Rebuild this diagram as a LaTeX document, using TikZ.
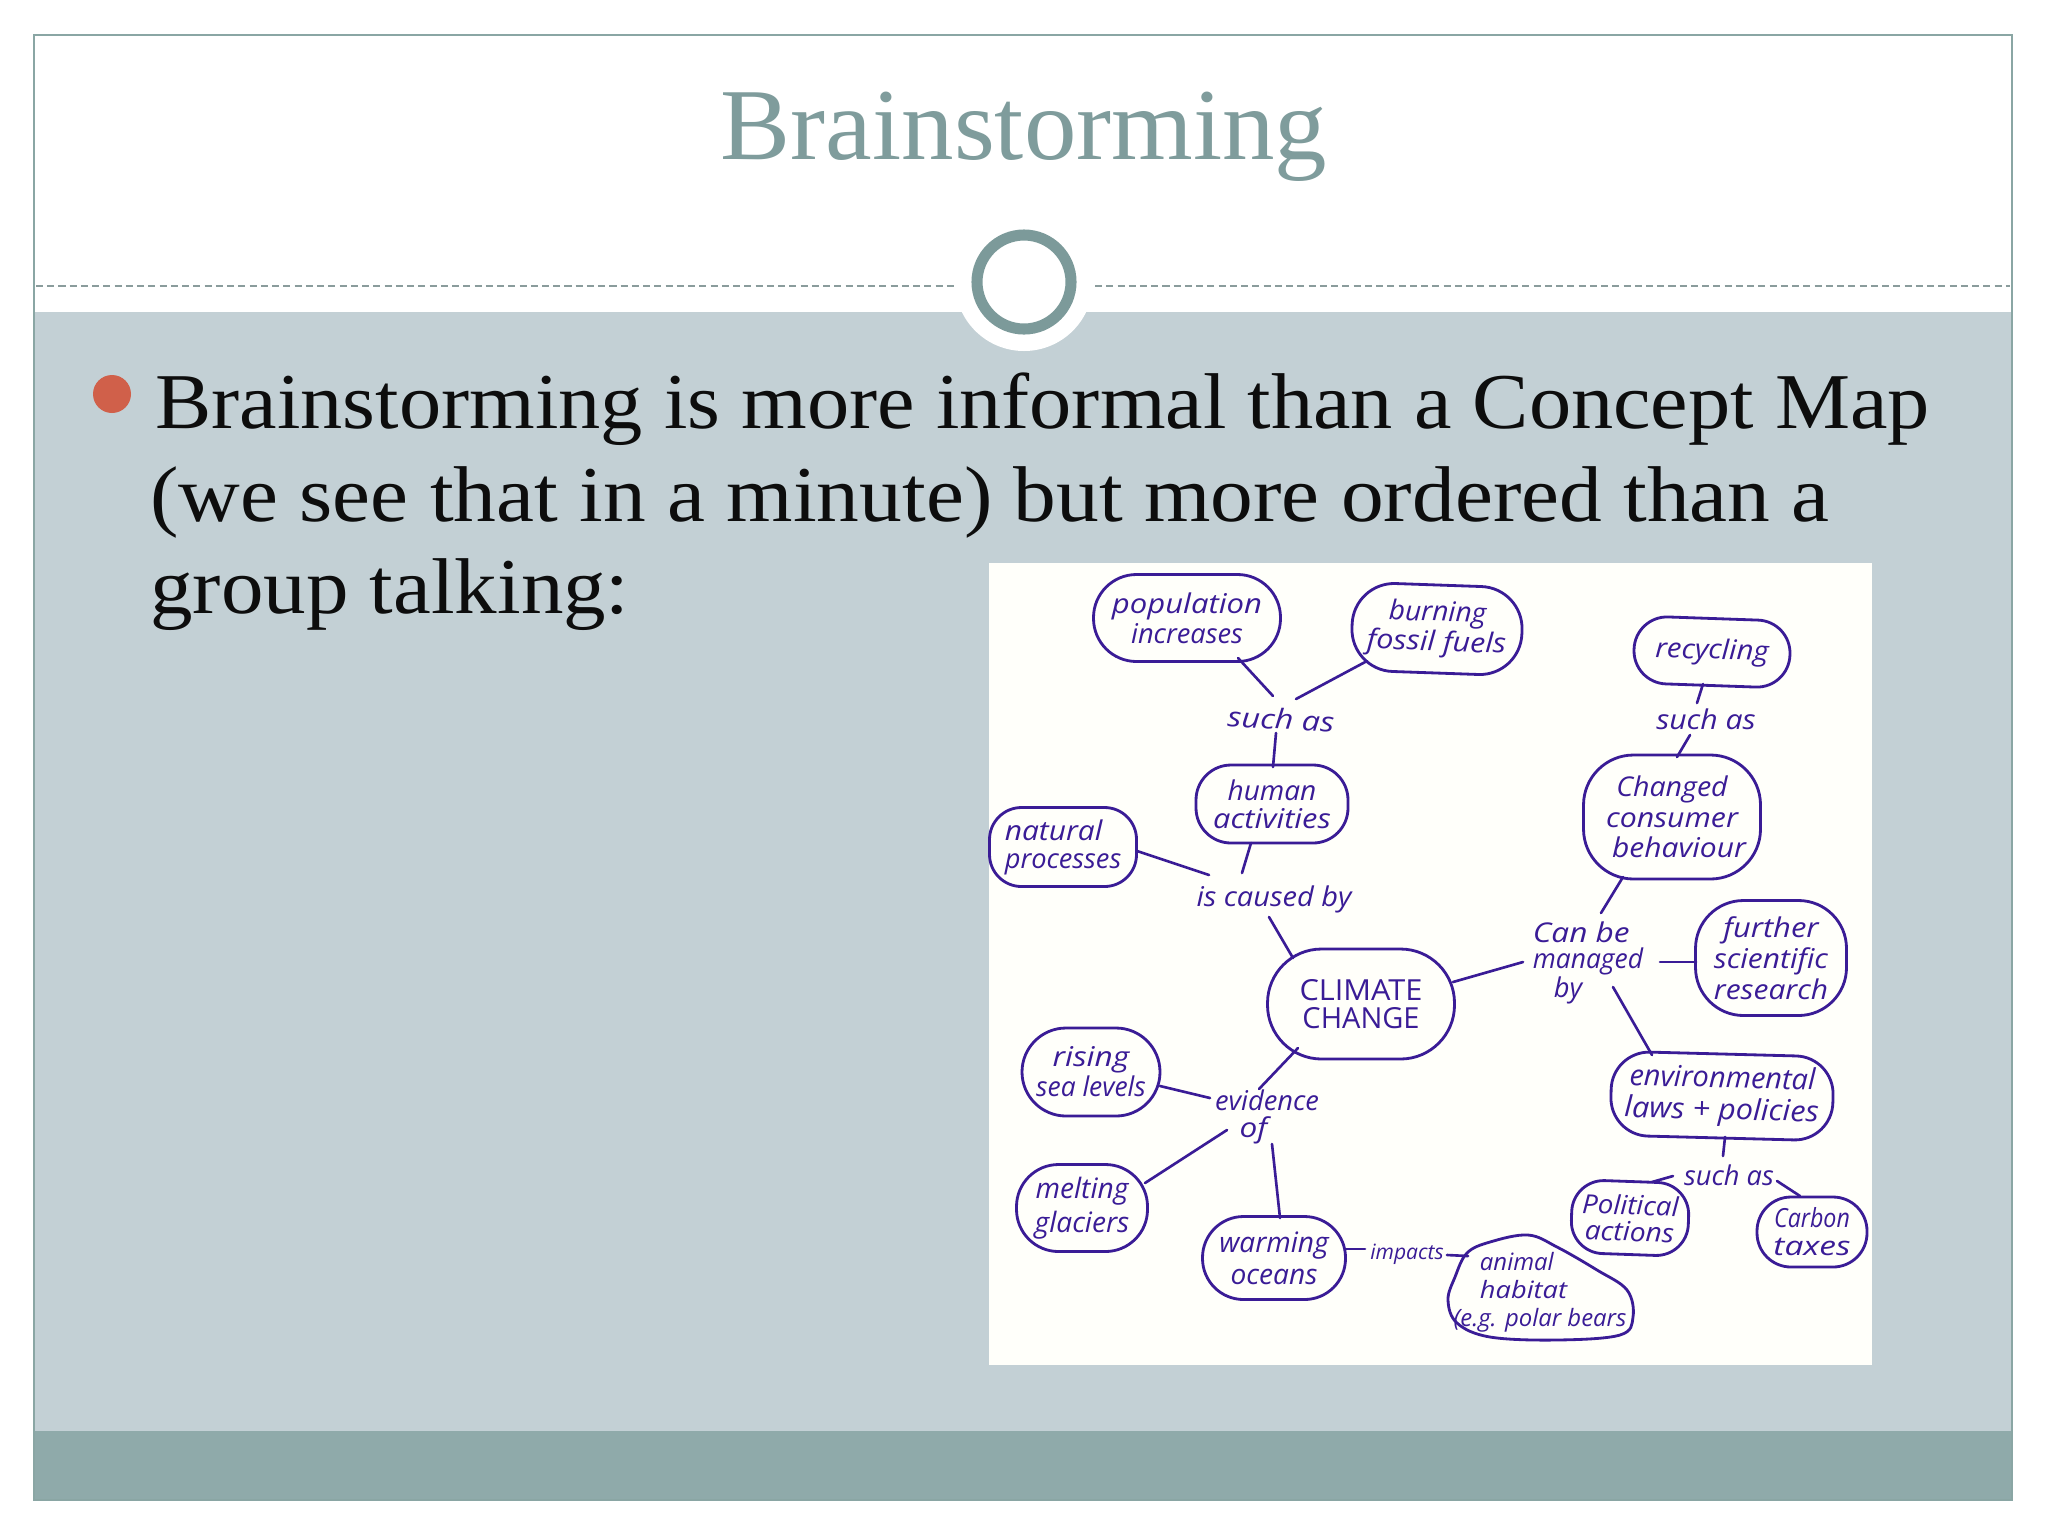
\documentclass[tikz,border=0pt]{standalone}
\usepackage{graphicx}
\usepackage{fontspec}
\newfontfamily\handfont{Open Sans}
\newfontfamily\slidefont[FakeStretch=1.075]{Liberation Serif}
\newfontfamily\titlefont[FakeStretch=1.03]{Liberation Serif}
\newcommand{\lsx}[2]{\scalebox{#1}[1]{#2}}
\definecolor{framecol}{HTML}{8AA6A4}
\definecolor{titlecol}{HTML}{7F9C9C}
\definecolor{bodycol}{HTML}{C3D0D5}
\definecolor{footcol}{HTML}{8FAAAA}
\definecolor{ringcol}{HTML}{7C9A9A}
\definecolor{dashcol}{HTML}{8A9C9C}
\definecolor{bulletcol}{HTML}{D0604A}
\definecolor{paper}{HTML}{FFFFFA}
\definecolor{ink}{HTML}{3A1C96}
\tikzset{
  bodyline/.style={anchor=base west,inner sep=0pt,text=black!95,font=\slidefont\fontsize{45}{50}\selectfont},
  blob/.style n args={3}{draw=ink,line width=1.6pt,text=ink,align=center,inner sep=0pt,
    minimum width=#1*0.02cm,minimum height=#2*0.02cm,rounded corners=#3*0.02cm},
  hw/.style 2 args={font=\handfont\itshape\fontsize{#1}{#2}\selectfont},
  tag/.style={text=ink,align=center,inner sep=0pt},
  link/.style={draw=ink,line width=1.5pt,line cap=round}
}
\begin{document}
\begin{tikzpicture}[x=0.02cm,y=-0.02cm]
\useasboundingbox (0,0) rectangle (2048,1536);
\fill[white] (0,0) rectangle (2048,1536);
% slide
\fill[bodycol] (34,312) rectangle (2012,1431);
\fill[footcol] (34,1431) rectangle (2012,1500);
\fill[white] (1024,282) circle[radius=69];
\fill[white] (955,220) rectangle (1093,312);
\draw[framecol,line width=1.5pt] (34,35) rectangle (2012,1500);
\coordinate (dashL0) at (36,286);
\coordinate (dashL1) at (956,286);
\coordinate (dashR0) at (1095,286);
\coordinate (dashR1) at (2010,286);
\draw[dashcol,line width=0.8pt,dash pattern=on 4pt off 2.4pt] (dashL0) -- (dashL1);
\draw[dashcol,line width=0.8pt,dash pattern=on 4pt off 2.4pt] (dashR0) -- (dashR1);
\draw[ringcol,line width=6.3pt] (1024,282) circle[radius=47];
\node[anchor=base,inner sep=0pt,text=titlecol,font=\titlefont\fontsize{58}{60}\selectfont] (title) at (1024,159) {Brainstorming};
\fill[bulletcol] (112,394) circle[radius=19];
\node[bodyline] (l1) at (155,428) {\lsx{0.993}{Brainstorming is more informal than a Concept Map}};
\node[bodyline] (l2) at (150,521) {\lsx{1.005}{(we see that in a minute) but more ordered than a}};
\node[bodyline] (l3) at (150,613) {group talking:};
% picture panel
\fill[paper] (989,563) rectangle (1872,1365);
% concept nodes
\node[blob={187}{87}{43},hw={15.5}{17}] (pop) at (1187,618) {\lsx{1.14}{population}\\increases};
\node[blob={170}{88}{42},hw={15.5}{17},rotate=-2] (burn) at (1437,629) {\lsx{1.03}{burning}\\\lsx{1.12}{fossil fuels}};
\node[blob={152}{78}{35},hw={15.5}{16}] (human) at (1272,804) {\lsx{1.03}{human}\\\lsx{1.13}{activities}};
\node[blob={147}{79}{32},hw={15.5}{16},align=left] (natural) at (1063,847) {\lsx{1.1}{natural}\\processes};
\node[blob={156}{67}{33},hw={15.5}{17},rotate=-2] (recyc) at (1712,652) {\lsx{1.08}{recycling}};
\node[blob={177}{124}{50},hw={15.5}{17.5}] (changed) at (1672,817) {\lsx{1.05}{Changed}\hspace{10pt}\\\lsx{1.11}{consumer}\hspace{6pt}\\\hspace{8pt}\lsx{1.1}{behaviour}};
\node[blob={151}{115}{48},hw={15.5}{17.5}] (further) at (1771,958) {\lsx{1.135}{further}\\\lsx{1.1}{scientific}\\\lsx{1.1}{research}};
\node[blob={187}{110}{54},font=\handfont\fontsize{16.5}{16}\selectfont] (climate) at (1361,1004) {\lsx{1.06}{CLIMATE}\\CHANGE};
\node[blob={138}{88}{44},hw={15.5}{17}] (rising) at (1091,1072) {\lsx{1.16}{rising}\\\lsx{0.97}{sea levels}};
\node[blob={131}{87}{42},hw={16}{19}] (melting) at (1082,1208) {melting\\glaciers};
\node[blob={143}{83}{41},hw={16}{18}] (warming) at (1274,1258) {warming\\oceans};
\node[blob={222}{84}{38},hw={16.5}{18},rotate=-1.5] (env) at (1722,1096) {environmental\\\lsx{1.06}{laws + policies}};
\node[blob={117}{73}{32},hw={15}{15},rotate=-2] (pol) at (1630,1218) {\lsx{1.05}{Political}\\\lsx{1.07}{actions}};
\node[blob={110}{70}{34},hw={15}{16}] (carbon) at (1812,1232) {\lsx{0.88}{Carbon}\\\lsx{1.27}{taxes}};
% odd-shaped blob
\node[tag,hw={13.6}{16},align=left] (animal) at (1540,1292) {\hspace{15pt}animal\\\hspace{15pt}\lsx{1.14}{habitat}\\(e.g. polar bears};
\draw[draw=ink,line width=1.6pt] plot[smooth cycle,tension=0.6] coordinates {(1467,1253) (1490,1242) (1528,1235) (1557,1247) (1597,1270) (1627,1290) (1633,1317) (1620,1335) (1557,1340) (1490,1337) (1457,1323) (1448,1300) (1455,1277)};
% linking phrases
\node[tag,hw={15.5}{17},rotate=-3] (such1) at (1281,719) {\lsx{1.19}{such as}};
\node[tag,hw={15.5}{17}] (caused) at (1274,899) {\lsx{1.065}{is caused by}};
\node[tag,hw={15.5}{17}] (such2) at (1706,719) {\lsx{1.11}{such as}};
\node[tag,hw={15.5}{15},align=left] (can) at (1588,963) {\lsx{1.16}{Can be}\\\lsx{0.97}{managed}\\\hspace{12pt}by};
\node[tag,hw={15.5}{15},align=left] (evid) at (1267,1117) {evidence\\\hspace{14pt}\lsx{1.16}{of}};
\node[tag,hw={12}{15}] (impacts) at (1407,1254) {impacts};
\node[tag,hw={15.5}{15}] (such3) at (1729,1175) {such as};
% connectors
\draw[link] ([shift={(51,40)}]pop.center) -- ([shift={(-8,-23)}]such1.center);
\draw[link] ([shift={(-70,32)}]burn.center) -- ([shift={(15,-20)}]such1.center);
\draw[link] ([shift={(-5,14)}]such1.center) -- ([shift={(1,-37)}]human.center);
\draw[link] ([shift={(-21,39)}]human.center) -- ([shift={(-32,-26)}]caused.center);
\draw[link] ([shift={(74,4)}]natural.center) -- ([shift={(-65,-24)}]caused.center);
\draw[link] ([shift={(-5,18)}]caused.center) -- ([shift={(-68,-46)}]climate.center);
\draw[link] ([shift={(92,-22)}]climate.center) -- ([shift={(-65,-1)}]can.center);
\draw[link] ([shift={(-9,32)}]recyc.center) -- ([shift={(-9,-16)}]such2.center);
\draw[link] ([shift={(-16,16)}]such2.center) -- ([shift={(5,-60)}]changed.center);
\draw[link] ([shift={(-49,60)}]changed.center) -- ([shift={(13,-50)}]can.center);
\draw[link] ([shift={(72,-1)}]can.center) -- ([shift={(-75,4)}]further.center);
\draw[link] ([shift={(25,24)}]can.center) -- ([shift={(-70,-41)}]env.center);
\draw[link] ([shift={(-63,44)}]climate.center) -- ([shift={(-8,-28)}]evid.center);
\draw[link] ([shift={(69,14)}]rising.center) -- ([shift={(-57,-19)}]evid.center);
\draw[link] ([shift={(63,-25)}]melting.center) -- ([shift={(-40,13)}]evid.center);
\draw[link] ([shift={(5,27)}]evid.center) -- ([shift={(6,-40)}]warming.center);
\draw[link] ([shift={(72,-9)}]warming.center) -- ([shift={(-42,-5)}]impacts.center);
\draw[link] ([shift={(40,1)}]impacts.center) -- ([shift={(-72,-36)}]animal.center);
\draw[link] ([shift={(3,41)}]env.center) -- ([shift={(-6,-19)}]such3.center);
\draw[link] ([shift={(-56,1)}]such3.center) -- ([shift={(22,-36)}]pol.center);
\draw[link] ([shift={(48,6)}]such3.center) -- ([shift={(-12,-36)}]carbon.center);
\end{tikzpicture}
\end{document}
